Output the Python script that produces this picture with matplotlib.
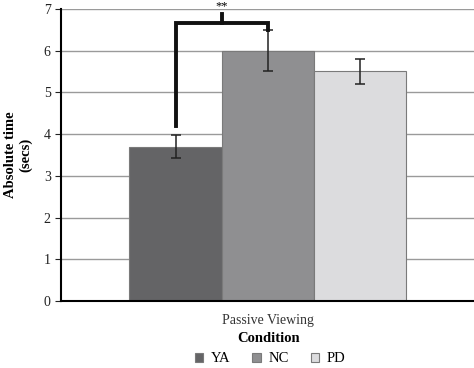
import matplotlib.pyplot as plt
import numpy as np

groups = ['YA', 'NC', 'PD']
means = [3.7, 6.0, 5.5]
errs = [0.27, 0.5, 0.3]
colors = ['#646466', '#8f8f91', '#dcdcde']
condition = 'Passive Viewing'

plt.rcParams['font.family'] = ['Liberation Serif', 'DejaVu Serif']

fig = plt.figure(figsize=(4.74, 3.68), dpi=100)
ax = fig.add_axes([0.129, 0.182, 0.871, 0.794])

width = 0.223
xs = 0.5 + (np.arange(len(groups)) - 1) * width
for x, m, e, c, g in zip(xs, means, errs, colors, groups):
    ax.bar(x, m, width=width, color=c, edgecolor='#7a7a7a', linewidth=0.8,
           label=g, zorder=2)
    ax.errorbar(x, m, yerr=e, fmt='none', ecolor='#222222', elinewidth=1.1,
                capsize=3.5, capthick=1.1, zorder=3)

# significance bracket YA vs NC
top = 6.65
ax.plot([xs[0], xs[0], xs[1], xs[1]], [means[0] + errs[0] + 0.23, top, top, top - 0.15],
        color='#111111', lw=2.8, solid_joinstyle='miter', zorder=4, clip_on=False)
ax.plot([(xs[0] + xs[1]) / 2] * 2, [top, top + 0.22], color='#111111', lw=2.8,
        zorder=4, clip_on=False)
ax.text((xs[0] + xs[1]) / 2, top + 0.42, '**', ha='center', va='center', fontsize=9)

ax.set_xlim(0, 1)
ax.set_ylim(0, 7)
ax.set_yticks(range(0, 8))
ax.set_xticks([0.5])
ax.set_xticklabels([condition], fontsize=10, color='#333333')
ax.tick_params(axis='x', length=0, pad=9)
ax.tick_params(axis='y', length=4, direction='out', labelsize=10, colors='#222222')
ax.yaxis.grid(True, color='#9a9a9a', lw=1.0, zorder=0)
ax.set_axisbelow(True)
for s in ['top', 'right']:
    ax.spines[s].set_visible(False)
ax.spines['left'].set_linewidth(1.5)
ax.spines['bottom'].set_linewidth(1.5)

ax.set_xlabel('Condition', fontsize=10.5, fontweight='bold')
ax.xaxis.set_label_coords((268 - 61) / 413, -0.105)
ax.set_ylabel('Absolute time\n(secs)', fontsize=10.5, fontweight='bold', labelpad=8)

fig.legend(*ax.get_legend_handles_labels(), loc='center',
           bbox_to_anchor=(270 / 474, 1 - 359 / 368),
           ncol=3, frameon=False, handlelength=0.6, handleheight=0.6,
           handletextpad=0.5, columnspacing=1.5, fontsize=10.5)

fig.savefig('out.png', dpi=100)
